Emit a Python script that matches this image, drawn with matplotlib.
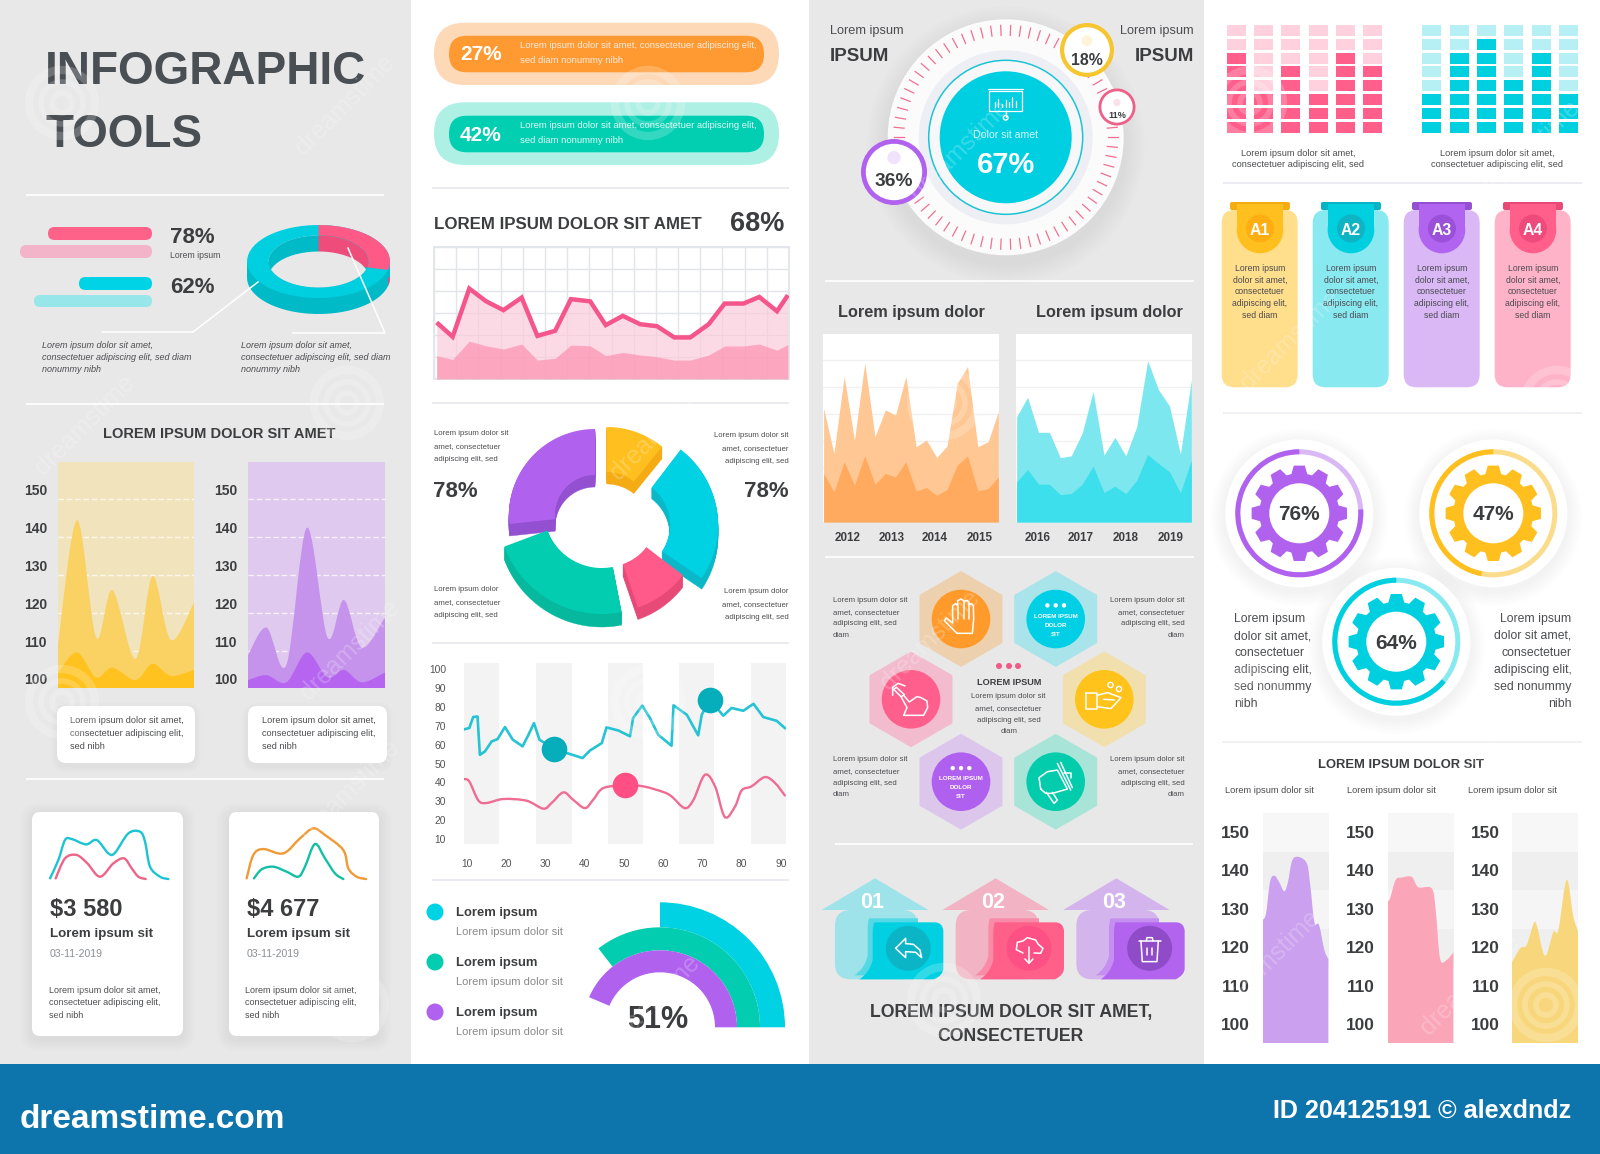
import numpy as np
import matplotlib
matplotlib.use('Agg')
import matplotlib.pyplot as plt
from matplotlib.patches import Circle, Wedge, Polygon, FancyBboxPatch, PathPatch, Rectangle, RegularPolygon
from matplotlib.path import Path

plt.rcParams['font.family'] = ['Liberation Sans', 'DejaVu Sans']

W, H = 1600, 1154
DARK = '#3c3d3f'
GREY = '#4c4d50'

# column 1
bar_lengths = [104, 132, 73, 118]
donut_pink_share = 28.7
yellow_x = [0, 1.4, 2.8, 4, 5.7, 6.95, 8.3, 10]
yellow_back = [109, 142, 111, 123.5, 105.3, 127.2, 110.3, 120.2]
yellow_front = [101.7, 107, 100.4, 103, 99.7, 104, 100.8, 102.4]
violet_x = [0, 1.35, 2.8, 4.3, 5.8, 7, 8.3, 10]
violet_back = [106.3, 113.6, 103.7, 140, 111, 120.9, 108.3, 116.3]
violet_front = [99.7, 101, 99.1, 107, 100.4, 102.4, 99.1, 101.7]
left_ticks = [100, 110, 120, 130, 140, 150]
spark1_teal_x = [10, 35, 55, 75, 118, 150, 185, 205, 245, 280, 295, 310, 340, 365]
spark1_teal_y = [5, 60, 120, 123, 107, 120, 80, 82, 140, 145, 115, 40, 10, 3]
spark1_pink_x = [27, 55, 90, 122, 160, 200, 232, 255, 275, 297]
spark1_pink_y = [5, 65, 75, 50, 10, 50, 65, 35, 10, 3]
spark2_orange_x = [10, 30, 60, 120, 170, 210, 245, 300, 315, 340, 368]
spark2_orange_y = [5, 75, 93, 80, 125, 155, 135, 90, 35, 10, 3]
spark2_teal_x = [32, 55, 90, 130, 165, 185, 215, 245, 275, 300]
spark2_teal_y = [5, 32, 40, 25, 10, 40, 108, 65, 20, 3]

# column 2
grid_x = [.12, .84, 1.59, 2.35, 3.13, 3.95, 4.66, 5.46, 6.17, 7.04, 7.74, 8.51, 9.29, 10.05, 10.83, 11.55, 12.38, 13.1, 13.95, 14.66, 15.46, 15.95]
grid_line = [2.57, 1.92, 4.11, 3.53, 3.13, 3.70, 1.96, 2.19, 3.63, 3.53, 2.45, 2.87, 2.49, 2.40, 1.89, 1.89, 2.49, 3.43, 3.43, 3.73, 3.08, 3.81]
grid_front = [1.06, .89, 1.72, 1.51, 1.36, 1.59, .86, .94, 1.54, 1.51, 1.06, 1.21, 1.09, 1.01, .86, .86, 1.09, 1.5, 1.5, 1.59, 1.31, 1.57]
seg_start = [186, 51, -34, -71, 200.6]
seg_end = [90, 90, 52.6, -37.5, 281]
line_ticks_x = [10, 20, 30, 40, 50, 60, 70, 80, 90]
line_ticks_y = [10, 20, 30, 40, 50, 60, 70, 80, 90, 100]
bands = [(9.15, 18.2), (27.5, 36.6), (45.9, 54.7), (64, 73), (82.3, 91.3)]
teal_x = [9.4, 10.5, 11.5, 12.6, 13.2, 14.5, 16.2, 17.7, 19.6, 21.6, 24.1, 25.6, 27, 28.4, 32.3, 36.2, 39.4, 41.3, 44.3, 45.5, 48.5, 51.5, 52.3, 54.6, 56.6, 58.7, 62.1, 62.6, 66, 68.9, 69.8, 71.9, 75.3, 77.4, 80.4, 83, 85.5, 88.9, 91]
teal_y = [68.2, 68.8, 74.6, 74.9, 54.6, 56.4, 61.7, 62.9, 69.3, 62.6, 59.1, 65.2, 71.4, 62.6, 57.6, 55, 52.9, 56.9, 60.8, 69.1, 67.5, 64.4, 74.1, 80.6, 74.1, 65.2, 59.4, 80.8, 75.8, 64.9, 75.8, 83.8, 75.3, 79.4, 77.9, 81.6, 74.6, 72.6, 68.8]
rose_x = [9, 10.5, 12.8, 14.9, 19.2, 25.1, 29.4, 31.5, 34.5, 37, 40, 42.1, 44.7, 50.2, 54.9, 60, 62.1, 65.5, 67.7, 70.6, 73.2, 75.7, 78.3, 80, 82.5, 85.9, 88.5, 91]
rose_y = [41.8, 40.5, 30.5, 29.1, 31.2, 30.3, 26.1, 29.1, 34.7, 30.8, 26.4, 30.8, 37, 38.4, 37.9, 34.9, 32.6, 26.4, 30.8, 44, 37.9, 21.7, 27.3, 35.8, 37.9, 42.8, 39.7, 33.1]
teal_marks = [(32.2, 57.6), (71.9, 83.8)]
rose_marks = [(50.2, 38.4)]
gauge_angles = [90, 128, 157]

# column 3
orange_back = [60.5, 36.5, 77.4, 43.6, 84.5, 45.4, 59.6, 56.9, 77.4, 40, 43.6, 34.3, 40.4, 73.8, 82.7, 40, 42.7, 58.7]
orange_front = [25.8, 16, 32, 19.6, 35.2, 20.1, 25.8, 24, 32, 16.5, 18.3, 14.2, 17.3, 30.2, 35.2, 16.5, 17.8, 24]
orange_years = ['2012', '2013', '2014', '2015']
orange_year_pos = [2.3, 6.66, 10.8, 15.2]
aqua_back = [56, 66.4, 47.7, 47.7, 34.2, 35.2, 47.2, 69.4, 35.6, 45, 35.2, 50.7, 85.8, 70.3, 61.7, 36.1, 75.6]
aqua_front = [21.4, 27.9, 20.1, 20.1, 14.6, 15.1, 20.1, 29.7, 15.7, 19, 15.1, 22.2, 35.9, 31.1, 26.7, 15.5, 32.9]
aqua_years = ['2016', '2017', '2018', '2019']
aqua_year_pos = [1.9, 5.83, 9.97, 14.1]

# column 4
pink_levels = [6, 3, 5, 3, 6, 5]
cyan_levels = [3, 6, 7, 4, 6, 3]
gear_values = [76, 47, 64]
right_ticks = [100, 110, 120, 130, 140, 150]
lilac_x = [0, 10, 22, 35, 49, 64, 75, 92, 130, 142, 155, 169, 185, 197]
lilac_y = [127.1, 128.8, 137, 138.6, 137, 134.6, 136.6, 143.1, 142.2, 136.6, 126.6, 125.8, 119.3, 116.9]
blush_x = [0, 7, 24, 42, 72, 92, 132, 144, 157, 177, 197]
blush_y = [132.1, 132.7, 137.5, 138.1, 138.3, 135.6, 135.3, 129.7, 117.1, 116.7, 118.7]
sand_x = [0, 24, 44, 64, 74, 99, 124, 139, 164, 184, 199]
sand_y = [116.1, 119.7, 120.6, 126, 125.8, 117.8, 124, 124.5, 137.5, 127.9, 124]

LOREM3 = ['Lorem ipsum dolor sit amet,', 'consectetuer adipiscing elit,', 'sed nibh']


def inset(x0, y0, x1, y1, z=2):
    a = fig.add_axes([x0 / W, 1 - y1 / H, (x1 - x0) / W, (y1 - y0) / H], zorder=z)
    a.tick_params(length=0)
    for s in a.spines.values():
        s.set_visible(False)
    return a


def smooth(x, y):
    # catmull-rom handles, only for drawing the read points as a curve
    x, y = np.asarray(x, float), np.asarray(y, float)
    verts = [(x[0], y[0])]
    codes = [Path.MOVETO]
    for i in range(len(x) - 1):
        i0, i3 = max(i - 1, 0), min(i + 2, len(x) - 1)
        verts += [(x[i] + (x[i + 1] - x[i0]) / 6, y[i] + (y[i + 1] - y[i0]) / 6),
                  (x[i + 1] - (x[i3] - x[i]) / 6, y[i + 1] - (y[i3] - y[i]) / 6),
                  (x[i + 1], y[i + 1])]
        codes += [Path.CURVE4] * 3
    return verts, codes


def smooth_area(a, x, y, base, color, alpha=1, zorder=3):
    v, c = smooth(x, y)
    v = v + [(x[-1], base), (x[0], base), (x[0], base)]
    c = c + [Path.LINETO, Path.LINETO, Path.CLOSEPOLY]
    a.add_patch(PathPatch(Path(v, c), fc=color, ec='none', alpha=alpha, zorder=zorder))


def smooth_line(a, x, y, color, lw, zorder=4):
    v, c = smooth(x, y)
    a.add_patch(PathPatch(Path(v, c), fc='none', ec=color, lw=lw, capstyle='round', zorder=zorder))


def txt(x, y, s, size, color=DARK, ha='left', weight='normal', style='normal', z=6, **kw):
    # the bbox centre sits above the letters' centre, so nudge down with the size
    return bg.text(x, y + 0.13 * size, s, fontsize=size, color=color, ha=ha, va='center', fontweight=weight,
                   fontstyle=style, zorder=z, **kw)


def lines(x, ys, rows, size, color=GREY, ha='left', **kw):
    for y, s in zip(ys, rows):
        txt(x, y, s, size, color, ha, **kw)


def rrect(x0, y0, x1, y1, r, color, z=2, **kw):
    r = min(r, (x1 - x0) / 2, (y1 - y0) / 2)
    p = FancyBboxPatch((x0 + r, y0 + r), x1 - x0 - 2 * r, y1 - y0 - 2 * r,
                       boxstyle=f'round,pad={r},rounding_size={r}', fc=color, ec='none', zorder=z, **kw)
    bg.add_patch(p)
    return p


def shadow_card(x0, y0, x1, y1, r, layers=6, spread=2.0):
    for k in range(layers, 0, -1):
        g = k * spread
        rrect(x0 - g, y0 - g + 3, x1 + g, y1 + g + 3, r + g, '#8a8f9a', z=1.5, alpha=0.016)


def shadow_disc(cx, cy, r, layers=7, spread=3.0, dy=6, alpha=0.016):
    for k in range(layers, 0, -1):
        bg.add_patch(Circle((cx, cy + dy), r + k * spread, fc='#8a8f9a', ec='none', alpha=alpha, zorder=1.5))


def disc(cx, cy, r, color, z=3, **kw):
    bg.add_patch(Circle((cx, cy), r, fc=color, ec='none', zorder=z, **kw))


def arc(cx, cy, r, width, a0, a1, color, z=3):
    # screen angles, counter clockwise, on the y-down canvas
    bg.add_patch(Wedge((cx, cy), r, -a1, -a0, width=width, fc=color, ec='none', zorder=z))


def divider(x0, x1, y, color='#ffffff', lw=1.2):
    bg.plot([x0, x1], [y, y], color=color, lw=lw, zorder=2, solid_capstyle='butt')


def icon(cx, cy, strokes, color='white', lw=1.1, z=7):
    # strokes are offsets at 1/3 pixel from the icon centre
    for pts in strokes:
        pts = np.asarray(pts, float) / 3
        bg.plot(cx + pts[:, 0], cy + pts[:, 1], color=color, lw=lw, zorder=z,
                solid_capstyle='round', solid_joinstyle='round')


def box(x0, y0, x1, y1):
    return [(x0, y0), (x1, y0), (x1, y1), (x0, y1), (x0, y0)]


fig = plt.figure(figsize=(W / 100, H / 100), dpi=100, facecolor='white')
bg = fig.add_axes([0, 0, 1, 1], zorder=1)
bg.set_xlim(0, W)
bg.set_ylim(H, 0)
bg.axis('off')

# page columns
for x0, x1, c in [(0, 411, '#e8e8e9'), (411, 809, '#ffffff'), (809, 1204, '#e8e8e9'), (1204, 1600, '#ffffff')]:
    bg.add_patch(Rectangle((x0, 0), x1 - x0, 1064, fc=c, ec='none', zorder=0))
bg.add_patch(Rectangle((0, 1064), W, 90, fc='#0e74ac', ec='none', zorder=8))
txt(20, 1116, 'dreamstime.com', 24, 'white', weight='bold', z=9)
txt(1571, 1108, 'ID 204125191 © alexdndz', 18.1, 'white', ha='right', weight='bold', z=9)

# ---- column 1
txt(45, 68, 'INFOGRAPHIC', 33, '#4a4f54', weight='bold')
txt(45, 131, 'TOOLS', 33, '#4a4f54', weight='bold')
divider(26, 384, 195)
divider(26, 384, 404)
divider(26, 384, 779)

for ln, y0, y1, c in zip(bar_lengths, [227, 245, 277, 295], [240, 258, 290, 307], ['#ff6289', '#f3b3c8', '#00d3e6', '#96e6ea']):
    rrect(152 - ln, y0, 152, y1, 6.5, c)
txt(170, 235, '78%', 16, weight='bold')
txt(170, 255, 'Lorem ipsum', 6.2, GREY)
txt(170, 285, '62%', 16, weight='bold')


def ell_ring(cx, cy, rx, ry, irx, iry, a0, a1, n=60):
    t = np.radians(np.linspace(a0, a1, n))
    outer = np.c_[cx + rx * np.cos(t), cy - ry * np.sin(t)]
    inner = np.c_[cx + irx * np.cos(t[::-1]), cy - iry * np.sin(t[::-1])]
    return np.vstack([outer, inner])


dcx, dcy, drx, dry, dix, diy, ddep = 318.5, 261.5, 71.5, 36.5, 50, 26, 16
pink_end = 90 - donut_pink_share / 100 * 360
bg.add_patch(Polygon(ell_ring(dcx, dcy + ddep, drx, dry, drx, 0, 180, 360), fc='#00bac8', ec='none', zorder=3))
bg.add_patch(Rectangle((dcx - drx, dcy), 2 * drx, ddep, fc='#00bac8', ec='none', zorder=3))
bg.add_patch(Polygon(ell_ring(dcx, dcy + ddep, drx, dry, drx, 0, pink_end, 0), fc='#e84a78', ec='none', zorder=3))
bg.add_patch(Polygon(ell_ring(dcx, dcy, drx, dry, dix, diy, 0, 360), fc='#00cfe0', ec='none', zorder=3.1))
bg.add_patch(Polygon(ell_ring(dcx, dcy, drx, dry, dix, diy, pink_end, 90), fc='#ff5a87', ec='none', zorder=3.2))
wall = Polygon(ell_ring(dcx, dcy, dix, diy, 0, 0, 0, 360), fc='#00bac8', ec='none', zorder=3.3)
bg.add_patch(wall)
wall2 = Polygon(ell_ring(dcx, dcy, dix, diy, 0, 0, pink_end, 90), fc='#ee4d7b', ec='none', zorder=3.35)
bg.add_patch(wall2)
floor = Polygon(ell_ring(dcx, dcy + ddep, dix, diy, 0, 0, 0, 360), fc='#e8e8e9', ec='none', zorder=3.4)
bg.add_patch(floor)
floor.set_clip_path(wall)
bg.plot([258, 193, 102], [282, 332, 332], color='white', lw=1.1, zorder=4)
bg.plot([348, 385, 293], [248, 333, 333], color='white', lw=1.1, zorder=4)
italic = ['Lorem ipsum dolor sit amet,', 'consectetuer adipiscing elit, sed diam', 'nonummy nibh']
lines(42, [345, 357, 369], italic, 6.5, style='italic')
lines(241, [345, 357, 369], italic, 6.5, style='italic')

txt(219, 433, 'LOREM IPSUM DOLOR SIT AMET', 10.55, weight='bold', ha='center')
for box_x, x_d, back, front, panel, cb, cf in [
        ((58, 194), yellow_x, yellow_back, yellow_front, '#f1e3bc', '#f9d263', '#ffc21e'),
        ((248, 385), violet_x, violet_back, violet_front, '#dfc9ee', '#c693ec', '#b565ef')]:
    a = inset(box_x[0], 462, box_x[1], 688)
    a.set_facecolor(panel)
    a.set_xlim(0, 10)
    a.set_ylim(97.6, 157.4)
    a.set_xticks([])
    a.set_yticks(left_ticks)
    a.set_yticklabels(left_ticks, fontweight='bold', fontsize=10, color=DARK)
    a.tick_params(axis='y', pad=8)
    for g in [147.5, 137.5, 127.5, 117.5, 107.5]:
        a.axhline(g, color='white', lw=1, ls=(0, (4, 2)), alpha=0.75, zorder=2)
    smooth_area(a, x_d, back, 97.6, cb)
    smooth_area(a, x_d, front, 97.6, cf, zorder=3.5)

for x0, x1, tx in [(57, 195, 70), (248, 387, 262)]:
    shadow_card(x0, 706, x1, 763, 9, layers=4, spread=1.5)
    rrect(x0, 706, x1, 763, 9, 'white', z=2.5)
    lines(tx, [720, 733, 746], LOREM3, 6.55)

# cards with small lines
for x0, x1, tx, px, spark in [
        (32, 183, 50, 49, [(spark1_teal_x, spark1_teal_y, '#1cc4d3'), (spark1_pink_x, spark1_pink_y, '#ee6489')]),
        (229, 379, 247, 245, [(spark2_orange_x, spark2_orange_y, '#f09a36'), (spark2_teal_x, spark2_teal_y, '#14bfa5')])]:
    shadow_card(x0, 812, x1, 1036, 8)
    rrect(x0, 812, x1, 1036, 8, 'white', z=2.5)
    off = 46.7 if x0 == 32 else 243.3
    a = inset(off, 826.7, off + 125, 881.7, z=3)
    a.set_xlim(0, 375)
    a.set_ylim(-5, 160)
    a.axis('off')
    for sx, sy, c in spark:
        smooth_line(a, sx, sy, c, 1.7)
    name = '$3 580' if x0 == 32 else '$4 677'
    txt(tx, 907, name, 17, weight='bold')
    txt(tx, 933, 'Lorem ipsum sit', 9.6, weight='bold')
    txt(tx, 953, '03-11-2019', 7.6, '#8a8f94')
    lines(px, [990, 1002, 1015], LOREM3, 6.5)

# ---- column 2
for y0, y1, iy0, iy1, outer, inner, pct, ty, tc in [
        (22.7, 85, 35.7, 72.3, '#fdd9b8', '#ff9a33', '27%', 52.7, '#ffeadb'),
        (102.3, 165, 115.7, 152.3, '#aef0e4', '#02cfb1', '42%', 133.3, '#dcfaf4')]:
    rrect(434, y0, 779, y1, 31, outer)
    rrect(449, iy0, 764, iy1, 18, inner, z=2.5)
    txt(481, ty, pct, 15, 'white', ha='center', weight='bold')
    txt(520, iy0 + 9.3, 'Lorem ipsum dolor sit amet, consectetuer adipiscing elit,', 6.8, tc)
    txt(520, iy0 + 23.6, 'sed diam nonummy nibh', 6.8, tc)
divider(432, 789, 187.7, '#e7e7ec')
txt(434, 223, 'LOREM IPSUM DOLOR SIT AMET', 12.2, weight='bold')
txt(784, 221, '68%', 19.5, weight='bold', ha='right')

a = inset(434, 247, 789, 379)
a.set_xlim(0, 16)
a.set_ylim(0, 6)
a.set_xticks(range(17))
a.set_yticks(range(7))
a.set_xticklabels([])
a.set_yticklabels([])
a.grid(color='#e2e5e9', lw=1, zorder=1)
a.set_axisbelow(True)
for s in a.spines.values():
    s.set_visible(True)
    s.set_color('#e2e5e9')
    s.set_linewidth(1.3)
a.fill_between(grid_x, grid_line, 0, color='#fbc9da', alpha=0.68, lw=0, zorder=2)
a.fill_between(grid_x, grid_front, 0, color='#fd8fae', alpha=0.68, lw=0, zorder=3)
a.plot(grid_x, grid_line, color='#f4558a', lw=3.2, zorder=4, solid_joinstyle='miter', solid_capstyle='butt')

divider(432, 789, 403, '#e7e7ec')
lines(434, [432.7, 445.7, 458.3], ['Lorem ipsum dolor sit', 'amet, consectetuer', 'adipiscing elit, sed'], 5.6)
lines(789, [435, 448, 461], ['Lorem ipsum dolor sit', 'amet, consectetuer', 'adipiscing elit, sed'], 5.6, ha='right')
txt(433, 489, '78%', 16, weight='bold')
txt(789, 489, '78%', 16, weight='bold', ha='right')
lines(434, [589, 602, 615], ['Lorem ipsum dolor', 'amet, consectetuer', 'adipiscing elit, sed'], 5.6)
lines(789, [591, 604, 617], ['Lorem ipsum dolor', 'amet, consectetuer', 'adipiscing elit, sed'], 5.6, ha='right')

seg_style = [(595, 515, 86, 40, 12, '#b062ee', '#9350d0'),
             (606.7, 515, 88, 43, 12, '#ffc01f', '#f5ac14'),
             (623, 525, 95, 47, 11, '#00d2e3', '#0bb8c8'),
             (606.7, 516.7, 96, 50, 12, '#ff5a8a', '#e84a78'),
             (601.7, 510, 104, 58, 13, '#03cdb0', '#05b89e')]
for st, en, (cx, cy, ro, ri, dep, top, side) in zip(seg_start, seg_end, seg_style):
    a0, a1 = min(st, en), max(st, en)
    pts = ell_ring(cx, cy, ro, ro, ri, ri, a0, a1)
    for d in np.arange(dep, 0, -1.0):
        bg.add_patch(Polygon(pts + [0, d], fc=side, ec=side, lw=0.3, zorder=3))
    bg.add_patch(Polygon(pts, fc=top, ec='none', zorder=3.2))
divider(432, 789, 643, '#e7e7ec')

a = inset(464, 663, 786, 844)
a.set_xlim(9.15, 91.3)
a.set_ylim(7.4, 103.2)
for b0, b1 in bands:
    a.axvspan(b0, b1, color='#f3f3f4', lw=0, zorder=1)
a.set_xticks(line_ticks_x)
a.set_yticks(line_ticks_y)
a.tick_params(axis='x', labelsize=7.4, labelcolor='#555', pad=11)
a.tick_params(axis='y', labelsize=7.4, labelcolor='#555', pad=13)
a.plot(teal_x, teal_y, color='#25c3d3', lw=1.9, zorder=3, solid_joinstyle='round')
smooth_line(a, rose_x, rose_y, '#ef6c92', 1.7)
a.scatter(*zip(*teal_marks), s=340, color='#06aebc', zorder=5, lw=0)
a.scatter(*zip(*rose_marks), s=340, color='#ff4f84', zorder=5, lw=0)
divider(432, 789, 880, '#e7e7f2')

for y, c in zip([912, 962, 1012], ['#00d2e6', '#03cdb0', '#b062ee']):
    disc(435, y, 8.5, c)
    txt(456, y, 'Lorem ipsum', 9.4, weight='bold')
    txt(456, y + 19, 'Lorem ipsum dolor sit', 8, '#8a8a8a')
for ang, ro, wd, c in zip(gauge_angles, [125, 100, 77], [25, 23, 22], ['#00d2e4', '#03cdb0', '#b062ee']):
    arc(660, 1027.3, ro, wd, 0, ang, c)
txt(658, 1017, '51%', 22, weight='bold', ha='center')

# ---- column 3
gx, gy = 1005.7, 137.3
shadow_disc(gx, gy, 118, layers=7, spread=3.0, dy=8)
disc(gx, gy, 118, '#fbfbfc')
for t in np.radians(np.arange(0, 360, 360 / 70)):
    bg.plot([gx + 102 * np.cos(t), gx + 112 * np.cos(t)],
            [gy + 102 * np.sin(t), gy + 112 * np.sin(t)], color='#f0708f', lw=0.9, zorder=3.1)
disc(gx, gy, 87, '#eeeff4', z=3.2)
bg.add_patch(Circle((gx, gy), 77, fc='#f6f7f9', ec='#1cc4d4', lw=1.1, zorder=3.3))
disc(gx, gy, 66, '#00cfe2', z=3.4)
txt(gx, 134.5, 'Dolor sit amet', 7.6, '#d4f6f8', ha='center')
txt(gx, 162, '67%', 21, 'white', ha='center', weight='bold')
icon(gx, gy, [box(-50, -140, 48, -78), [(-54, -145), (52, -145)], [(0, -76), (0, -62)],
              [(-32, -90), (-32, -105)], [(-22, -90), (-22, -115)], [(-12, -90), (-12, -100)],
              [(0, -90), (0, -112)], [(10, -90), (10, -105)], [(20, -90), (20, -120)], [(30, -90), (30, -108)]], lw=0.9)
bg.add_patch(Circle((gx, gy - 19.5), 2.3, fc='none', ec='white', lw=1, zorder=7))
for bx, by, br, edge, c, label, fs, ty in [
        (894, 172, 33, 4.8, '#b062ee', '36%', 13.8, 180),
        (1087, 50, 27, 4.2, '#f7c530', '18%', 11.4, 59),
        (1117, 107, 18.5, 2.8, '#ee6088', '11%', 6.6, 115)]:
    disc(bx, by, br, c, z=4)
    disc(bx, by, br - edge, 'white', z=4.1)
    disc(bx, ty - br * 0.68, br * 0.2, c, z=4.2, alpha=0.18)
    txt(bx, ty, label, fs, weight='bold', ha='center')
txt(830, 30, 'Lorem ipsum', 9.2, GREY)
txt(830, 55, 'IPSUM', 13.5, weight='bold')
txt(1194, 30, 'Lorem ipsum', 9.2, GREY, ha='right')
txt(1194, 55, 'IPSUM', 13.5, weight='bold', ha='right')
divider(825, 1194, 281)
divider(825, 1194, 557)
divider(835, 1193, 844)

txt(911, 311, 'Lorem ipsum dolor', 11.7, weight='bold', ha='center')
txt(1109, 311, 'Lorem ipsum dolor', 11.7, weight='bold', ha='center')
for (x0, x1), back, front, cb, cf, years, pos in [
        ((823, 999), orange_back, orange_front, '#ffc793', '#ffaa5e', orange_years, orange_year_pos),
        ((1016, 1192), aqua_back, aqua_front, '#7ce7ef', '#3cdfeb', aqua_years, aqua_year_pos)]:
    a = inset(x0, 334, x1, 522)
    a.set_facecolor('white')
    xs = np.arange(len(back))
    a.set_xlim(-0.06, len(back) - 1 + 0.06)
    a.set_ylim(0, 100)
    a.set_yticks([])
    for g in [28.8, 43, 57.5, 72, 86.3]:
        a.axhline(g, color='#f0f0f0', lw=1, zorder=1)
    a.fill_between(xs, back, 0, color=cb, lw=0, zorder=2)
    a.fill_between(xs, front, 0, color=cf, lw=0, zorder=3)
    a.set_xticks(pos)
    a.set_xticklabels(years, fontsize=8.4, fontweight='bold', color=DARK)
    a.tick_params(axis='x', pad=7)

hexes = [(961, 619, '#edd0ae', '#ff9a2b'), (1055.7, 619, '#a9e4ea', '#00cfe6'),
         (911, 699.3, '#f3bcce', '#ff5f8d'), (1104.3, 699.3, '#f1e0ae', '#ffc31c'),
         (961, 781.7, '#dcc6ec', '#b060ee'), (1055.7, 781.7, '#a9e4d8', '#03ccac')]
for hx, hy, soft, strong in hexes:
    bg.add_patch(RegularPolygon((hx, hy), 6, radius=46.5, fc=soft, ec=soft, lw=1.8, joinstyle='round', zorder=2.2))
    disc(hx, hy, 29.3, strong, z=3)
para4 = ['Lorem ipsum dolor sit', 'amet, consectetuer', 'adipiscing elit, sed', 'diam']
lines(833, [600, 612, 623, 635], para4, 5.55)
lines(1185, [600, 612, 623, 635], para4, 5.55, ha='right')
lines(833, [759, 771, 783, 794], para4, 5.55)
lines(1185, [759, 771, 783, 794], para4, 5.55, ha='right')
lines(1008.7, [696, 707.7, 719.3, 731], para4, 5.55, ha='center')
for dx in [999, 1009, 1018]:
    disc(dx, 666, 3, '#f05a86')
txt(1008.7, 681.7, 'LOREM IPSUM', 6.6, weight='bold', ha='center')
for hx, hy in [(1055.7, 619), (961, 781.7)]:
    for dx in [-8.3, 0, 8.3]:
        disc(hx + dx, hy - 13.6, 2.2, 'white', z=4)
    for dy, s in zip([-3.3, 5.7, 14.7], ['LOREM IPSUM', 'DOLOR', 'SIT']):
        txt(hx, hy + dy, s, 4.5, 'white', ha='center', weight='bold')

icon(961, 619, [[(-12, 43), (-50, 5), (-44, -3), (-25, 12), (-25, -40), (-16, -46), (-10, -40), (-10, -55), (0, -60),
                 (8, -55), (8, -52), (18, -56), (24, -50), (24, -44), (32, -46), (37, -40), (38, 0), (34, 43), (-12, 43)],
                [(-10, -40), (-10, 0)], [(8, -52), (8, 0)], [(24, -44), (24, 0)]])
icon(911, 699.3, [[(-22, 48), (-12, 25), (-30, -8), (-22, -12), (-5, 8), (18, -8), (30, -5), (48, 5), (50, 25), (38, 48), (-22, 48)],
                  [(-30, -8), (-52, -30), (-44, -36), (-20, -14)],
                  [(-55, -12), (-55, -36), (-38, -48), (-18, -40)]])
icon(1104.3, 699.3, [box(-55, -20, -22, 28), [(-22, -12), (10, -20), (50, -5), (20, 28), (-22, 22)],
                     [(-2, 0), (30, 2)]])
bg.add_patch(Circle((1110.5, 685), 2.6, fc='none', ec='white', lw=1, zorder=7))
bg.add_patch(Circle((1119, 689), 2.6, fc='none', ec='white', lw=1, zorder=7))
icon(1055.7, 781.7, [[(-45, 22), (-50, -12), (-25, -30), (5, -35), (35, 22), (-10, 35), (-30, 35), (-45, 22)],
                     [(5, -55), (45, 25)], [(15, -58), (50, 18)], [(25, -25), (45, -25), (45, -10)],
                     [(-28, 32), (-5, 65), (5, 55), (-10, 32)]])

house_colors = [('#9ee2ea', '#00d0e2', '#0bb5c6', '#55d8e6'), ('#f2b3c4', '#ff6089', '#fd5084', '#f98aa8'), ('#d4b4ec', '#b264ee', '#8f4bc8', '#c48ff0')]
for k, (soft, strong, deep, mid) in enumerate(house_colors):
    ox = 815 + k * 362 / 3
    # house body, roof, then the tab that overlaps it
    rrect(ox + 20, 910, ox + 103, 979.3, 16, soft, z=2.2)
    bg.add_patch(Polygon([(ox + 60, 878.3), (ox + 113.3, 910), (ox + 6.7, 910)], fc=soft, ec='none', zorder=2.2))
    verts = [(60, 217), (235, 217), (260, 217), (262, 242), (262, 355), (262, 375), (235, 388), (210, 388), (10, 388),
             (40, 370), (50, 330), (50, 250), (50, 225), (55, 217), (60, 217)]
    codes = [Path.MOVETO, Path.LINETO, Path.CURVE3, Path.CURVE3, Path.LINETO, Path.CURVE3, Path.CURVE3, Path.LINETO,
             Path.LINETO, Path.CURVE3, Path.CURVE3, Path.LINETO, Path.CURVE3, Path.CURVE3, Path.CLOSEPOLY]
    shifted = [(ox + vx / 3 + 41, 850 + vy / 3) for vx, vy in verts]
    fold = PathPatch(Path([(px - 5, py - 4) for px, py in shifted], codes), fc=mid, ec='none', zorder=2.4)
    bg.add_patch(fold)
    fold.set_clip_path(Rectangle((ox + 20, 910), 83, 70, transform=bg.transData))
    bg.add_patch(PathPatch(Path(shifted, codes), fc=strong, ec='none', zorder=2.5))
    disc(ox + 93.3, 948.3, 22.5, deep, z=2.7)
    txt(ox + 57.3, 900.7, f'0{k + 1}', 15.5, 'white', ha='center', weight='bold')
    if k == 0:
        strokes = [[(-38, 0), (-8, -30), (-8, -14), (15, -12), (35, 5), (40, 28), (22, 12), (-8, 10), (-8, 28), (-38, 0)]]
    elif k == 1:
        strokes = [[(-18, 14), (-38, 4), (-35, -18), (-18, -22), (-5, -32), (20, -25), (28, -12), (42, 0), (35, 15), (15, 14)],
                   [(0, -5), (0, 45)], [(-12, 32), (0, 45), (12, 32)]]
    else:
        strokes = [[(-33, -22), (33, -22)], [(-10, -22), (-8, -32), (8, -32), (10, -22)],
                   [(-26, -22), (-22, 40), (22, 40), (26, -22)], [(-7, 0), (-7, 20)], [(7, 0), (7, 20)]]
    icon(ox + 93.3, 948.3, strokes)
txt(1010.7, 1010.7, 'LOREM IPSUM DOLOR SIT AMET,', 12.7, weight='bold', ha='center')
txt(1010.7, 1035.3, 'CONSECTETUER', 12.7, weight='bold', ha='center')

# ---- column 4
for x0, levels, soft, strong in [(1226.7, pink_levels, '#ffd0dd', '#ff5f8a'), (1422.3, cyan_levels, '#b6f0f5', '#00cfe0')]:
    a = inset(x0, 25, x0 + 155.6, 132.7)
    a.axis('off')
    a.set_xlim(-0.3475, 5.3475)
    a.set_ylim(0, 7.795)
    for i, lv in enumerate(levels):
        for j in range(8):
            a.bar(i, 0.795, width=0.695, bottom=j, color=strong if j < lv else soft, lw=0)
cap = ['Lorem ipsum dolor sit amet,', 'consectetuer adipiscing elit, sed']
lines(1298, [153, 164], cap, 6.65, ha='center')
lines(1497, [153, 164], cap, 6.65, ha='center')
divider(1223, 1582, 182.7, '#e7e7f0')
divider(1223, 1582, 413, '#eeeef4')
divider(1222, 1582, 742, '#eeeef4')

card_colors = [('#ffde8c', '#ffc01f', '#f3ac14', '#ffae12'), ('#89e9f0', '#00cfe0', '#0ab3c4', '#0fb3c3'),
               ('#d9b8f5', '#b164ef', '#9550d2', '#9a50d8'), ('#ffb3c8', '#ff5f8a', '#e84a78', '#ef4a7c')]
card_lines = ['Lorem ipsum', 'dolor sit amet,', 'consectetuer', 'adipiscing elit,', 'sed diam']
card_icons = [[box(-43, 345, 45, 433), [(-43, 330), (45, 330)], [(-43, 338), (45, 338)], [(-5, 375), (25, 375)], [(-5, 385), (25, 385)]],
              [box(-50, 330, 32, 433), box(-23, 345, 20, 380), box(37, 333, 52, 415), [(37, 415), (45, 432), (52, 415)]],
              [box(-40, 330, 55, 433), box(-15, 345, 30, 380), [(-50, 340), (-40, 340)], [(-50, 360), (-40, 360)], [(-50, 380), (-40, 380)], [(-50, 400), (-40, 400)], [(-50, 420), (-40, 420)]],
              [[(-35, 330), (25, 330), (45, 352), (45, 433), (-35, 433), (-35, 330)], [(25, 330), (25, 352), (45, 352)], [(-15, 370), (15, 370)], [(-15, 380), (5, 380)], [(0, 420), (60, 360)]]]
for k, (card, tab, top, dot) in enumerate(card_colors):
    x0 = 1205 + (50 + 273 * k) / 3
    rrect(x0, 210, x0 + 76, 387.3, 13, card)
    cx = x0 + 38.3
    rrect(cx - 30, 202, cx + 30, 210, 2, top, z=2.4)
    bg.add_patch(Rectangle((cx - 23.3, 204), 46.6, 26, fc=tab, ec='none', zorder=2.5))
    disc(cx, 230, 23.3, tab, z=2.5)
    disc(cx, 228.5, 14, dot, z=2.7)
    txt(cx, 229, f'A{k + 1}', 11.3, 'white', ha='center', weight='bold')
    lines(cx, [267.7, 279.3, 291, 303, 315], card_lines, 6.2, '#4a4a4f', ha='center')
    icon(cx, 0, card_icons[k], lw=0.9)


def gear_points(cx, cy, ro, rr, teeth=12):
    pts = []
    for i in range(teeth):
        t = np.pi / 2 + i * 2 * np.pi / teeth
        for da, r in [(-0.2, rr), (-0.115, ro), (0.115, ro), (0.2, rr)]:
            pts.append((cx + r * np.cos(t + da), cy - r * np.sin(t + da)))
    return pts


for (cx, cy), val, strong, soft in zip([(1299.3, 513.3), (1493.3, 513.3), (1396.3, 641.7)], gear_values,
                                       ['#b062ee', '#ffc01f', '#00cfe0'], ['#d9b8f5', '#fbdc8a', '#89e9f0']):
    shadow_disc(cx, cy, 74, layers=6, spread=2.5, dy=4, alpha=0.012)
    disc(cx, cy, 74, 'white', z=2.2)
    arc(cx, cy, 64, 5, 0, 360, soft, z=3)
    arc(cx, cy, 64, 5, 90, 90 + val * 3.6, strong, z=3.1)
    bg.add_patch(Polygon(gear_points(cx, cy, 48, 40), fc=strong, ec='none', zorder=3.2))
    disc(cx, cy, 30, 'white', z=3.3)
    txt(cx, cy - 0.5, f'{val}%', 15, weight='bold', ha='center')
para6 = ['Lorem ipsum', 'dolor sit amet,', 'consectetuer', 'adipiscing elit,', 'sed nonummy', 'nibh']
lines(1234.3, [618, 635, 652, 669, 686, 703], para6, 8.8)
lines(1571.7, [617.7, 634.7, 651.7, 668.7, 685.7, 702.7], para6, 8.8, ha='right')

txt(1400.7, 764, 'LOREM IPSUM DOLOR SIT', 9.4, weight='bold', ha='center')
for sx, sy, sc, x0, tx in [(lilac_x, lilac_y, '#cba0ee', 1262.7, 1225),
                           (blush_x, blush_y, '#fba5b8', 1387.7, 1346.7),
                           (sand_x, sand_y, '#f8d77c', 1512, 1468.3)]:
    txt(tx, 790, 'Lorem ipsum dolor sit', 6.7, GREY)
    a = inset(x0, 813.3, x0 + 66, 1043.3)
    a.set_xlim(0, 198)
    a.set_ylim(95.07, 154.8)
    a.set_xticks([])
    a.set_yticks(right_ticks)
    a.set_yticklabels(right_ticks, fontweight='bold', fontsize=12.4, color=DARK)
    a.tick_params(axis='y', pad=9)
    for b0, b1, c in [(144.8, 154.8, '#f8f7f8'), (134.9, 144.8, '#f0eff0'), (124.7, 134.9, '#f6f5f6'),
                      (115, 124.7, '#f0eff0'), (105, 115, '#f8f8f8'), (95.07, 105, '#fcfcfc')]:
        a.axhspan(b0, b1, color=c, lw=0, zorder=1)
    smooth_area(a, sx, sy, 95.07, sc)

# ---- watermark
wm = fig.add_axes([0, 0, 1, 1], zorder=20)
wm.set_xlim(0, W)
wm.set_ylim(H, 0)
wm.axis('off')
wm.patch.set_alpha(0)
for mx, my in [(62, 103), (347, 403), (62, 702), (648, 103), (648, 702), (944, 403), (944, 1000),
               (1250, 103), (1557, 403), (1250, 703), (1546, 1005), (352, 1005)]:
    for r, w in [(33, 6), (21, 4), (10, 4)]:
        wm.add_patch(Circle((mx, my), r, fc='none', ec='white', lw=w, alpha=0.2))
for mx, my in [(345, 105), (85, 425), (660, 430), (350, 650), (960, 150), (930, 640), (1290, 340), (1505, 735),
               (1270, 960), (350, 790), (95, 975), (650, 1005), (1530, 150), (1470, 985)]:
    wm.text(mx, my, 'dreamstime', fontsize=18, color='white', alpha=0.22, rotation=45, ha='center', va='center')

fig.savefig('out.png', dpi=100)
